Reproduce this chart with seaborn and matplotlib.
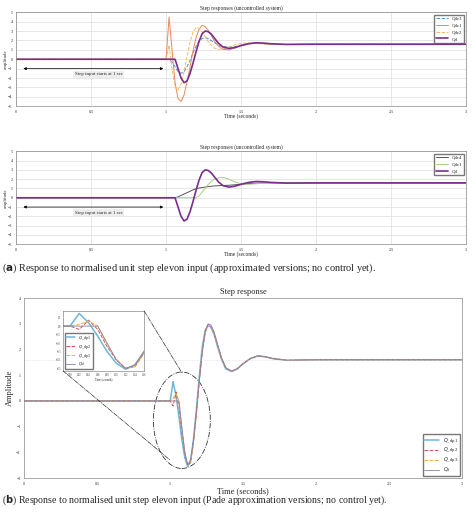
import numpy as np
import pandas as pd
import seaborn as sns
import matplotlib.pyplot as plt
from matplotlib.patches import Ellipse, ConnectionPatch

# time grid (seconds) and responses
t = [0, 1.00, 1.02, 1.04, 1.06, 1.08, 1.10, 1.12, 1.14, 1.16, 1.18, 1.20, 1.22, 1.24, 1.26,
     1.28, 1.30, 1.32, 1.35, 1.38, 1.42, 1.46, 1.50, 1.55, 1.60, 1.65, 1.70, 1.80, 2.0, 3.0]
Qd = [0, 0, 0, 0, 0, -1.0, -2.0, -2.5, -2.3, -1.5, -0.4, 0.8, 1.9, 2.7, 3.0,
      2.95, 2.7, 2.3, 1.7, 1.3, 1.15, 1.25, 1.45, 1.65, 1.75, 1.72, 1.65, 1.58, 1.6, 1.6]
Qdc1 = [0, 0, 4.5, 1.0, -2.5, -4.2, -4.5, -3.8, -2.4, -0.8, 0.9, 2.3, 3.2, 3.6, 3.5,
        3.1, 2.6, 2.0, 1.4, 1.05, 1.0, 1.2, 1.5, 1.7, 1.72, 1.66, 1.6, 1.58, 1.6, 1.6]
Qdc2 = [0, 0, 1.5, -1.0, -3.0, -3.3, -2.6, -1.3, 0.3, 1.8, 2.9, 3.4, 3.3, 2.9, 2.4,
        1.9, 1.5, 1.2, 1.05, 1.1, 1.3, 1.55, 1.7, 1.72, 1.68, 1.62, 1.6, 1.58, 1.6, 1.6]
Qdc3 = [0, 0, 0, -0.3, -0.8, -1.3, -1.5, -1.3, -0.8, -0.1, 0.7, 1.4, 1.9, 2.2, 2.3,
        2.2, 2.0, 1.8, 1.5, 1.35, 1.3, 1.35, 1.5, 1.65, 1.72, 1.68, 1.62, 1.58, 1.6, 1.6]
Qdc4 = [0, 0, 0, 0, 0, 0.1, 0.25, 0.4, 0.55, 0.7, 0.85, 0.97, 1.05, 1.1, 1.15,
        1.2, 1.23, 1.27, 1.3, 1.32, 1.35, 1.4, 1.45, 1.52, 1.57, 1.6, 1.6, 1.6, 1.6, 1.6]
Qdc5 = [0, 0, 0, 0, 0, 0, 0, 0, 0, 0, 0, 0, 0.2, 0.6, 1.0,
        1.4, 1.75, 2.0, 2.15, 2.2, 2.0, 1.7, 1.5, 1.45, 1.5, 1.6, 1.65, 1.62, 1.6, 1.6]
Qdp1 = [0, 0, 0.75, 0.2, -0.6, -1.5, -2.2, -2.55, -2.3, -1.5, -0.3, 1.0, 2.1, 2.75, 2.95,
        2.85, 2.6, 2.2, 1.65, 1.25, 1.15, 1.25, 1.45, 1.65, 1.75, 1.72, 1.65, 1.58, 1.6, 1.6]
Qdp2 = [0, 0, -0.2, 0.35, -0.2, -1.2, -2.0, -2.5, -2.4, -1.6, -0.5, 0.8, 1.9, 2.65, 2.95,
        2.9, 2.65, 2.25, 1.7, 1.3, 1.15, 1.25, 1.45, 1.65, 1.75, 1.72, 1.65, 1.58, 1.6, 1.6]
Qdp3 = [0, 0, 0.1, 0.3, 0.0, -1.1, -1.95, -2.5, -2.4, -1.6, -0.5, 0.8, 1.9, 2.65, 2.95,
        2.9, 2.65, 2.25, 1.7, 1.3, 1.15, 1.25, 1.45, 1.65, 1.75, 1.72, 1.65, 1.58, 1.6, 1.6]

sns.set_style("white")
plt.rcParams['font.family'] = ['Liberation Serif', 'DejaVu Serif']

fig = plt.figure(figsize=(4.74, 5.13), dpi=100)
ax1 = fig.add_axes([0.034, 0.793, 0.949, 0.183])
ax2 = fig.add_axes([0.034, 0.524, 0.949, 0.181])
ax3 = fig.add_axes([0.051, 0.068, 0.924, 0.351])


def small_panel(ax, series):
    for name, y, col, ls, lw in series:
        sns.lineplot(x=t, y=y, ax=ax, color=col, linestyle=ls, lw=lw, label=name)
    ax.set_xlim(0, 3)
    ax.set_ylim(-5, 5)
    ax.set_yticks(range(-5, 6))
    ax.set_xticks([0, 0.5, 1, 1.5, 2, 2.5, 3])
    ax.set_xticklabels(['0', '0.5', '1', '1.5', '2', '2.5', '3'])
    ax.tick_params(labelsize=3, length=1.5, pad=1)
    ax.grid(True, color='#dddddd', lw=0.5)
    ax.set_title('Step responses (uncontrolled system)', fontsize=4, pad=2)
    ax.set_xlabel('Time (seconds)', fontsize=4, labelpad=0)
    ax.set_ylabel('amplitude', fontsize=3.5, labelpad=0)
    for s in ax.spines.values():
        s.set_linewidth(0.5)
        s.set_color('#888888')
    ax.legend(loc='upper right', fontsize=3.5, frameon=True, fancybox=False,
              edgecolor='#555555', borderpad=0.3, handlelength=2.5)
    ax.annotate('', xy=(0.03, -1), xytext=(1.0, -1),
                arrowprops=dict(arrowstyle='<|-|>', lw=0.5, color='k', mutation_scale=4))
    ax.text(0.55, -1.6, 'Step input starts at 1 sec', fontsize=3.5, ha='center', va='center',
            bbox=dict(facecolor='#eeeeee', edgecolor='none', pad=1))


small_panel(ax1, [('Qdc3', Qdc3, '#4f8fc0', '--', 0.7),
                  ('Qdc1', Qdc1, '#e8885a', '-', 0.7),
                  ('Qdc2', Qdc2, '#f0c060', '--', 0.7),
                  ('Qd', Qd, '#7b2d8e', '-', 1.2)])
small_panel(ax2, [('Qdc4', Qdc4, '#555555', '-', 0.7),
                  ('Qdc1', Qdc5, '#a8d080', '-', 0.7),
                  ('Qd', Qd, '#7b2d8e', '-', 1.2)])

bottom_series = [(r'$Q$_dp1', Qdp1, '#6fb7d8', '-', 1.1),
                 (r'$Q$_dp2', Qdp2, '#d05050', '--', 0.7),
                 (r'$Q$_dp3', Qdp3, '#e8b040', '--', 0.7),
                 (r'$Q_d$', Qd, '#8a7faa', '-', 0.6)]
for name, y, col, ls, lw in bottom_series:
    sns.lineplot(x=t, y=y, ax=ax3, color=col, linestyle=ls, lw=lw, label=name)
ax3.axhline(1.6, color='#cccccc', lw=0.4, ls=':')
ax3.set_xlim(0, 3)
ax3.set_ylim(-3, 4)
ax3.set_xticks([0, 0.5, 1, 1.5, 2, 2.5, 3])
ax3.set_xticklabels(['0', '0.5', '1', '1.5', '2', '2.5', '3'])
ax3.tick_params(labelsize=3, length=1.5, pad=1)
ax3.set_title('Step response', fontsize=6, pad=3)
ax3.set_xlabel('Time (seconds)', fontsize=6, labelpad=1)
ax3.set_ylabel('Amplitude', fontsize=6, labelpad=2)
for s in ax3.spines.values():
    s.set_linewidth(0.5)
    s.set_color('#888888')
ax3.legend(loc='lower right', fontsize=3.5, frameon=True, fancybox=False,
           edgecolor='#555555', borderpad=0.3, handlelength=3, labelspacing=0.2)
ell = Ellipse((1.08, -0.75), 0.39, 3.75, fill=False, ls='-.', lw=0.6, color='#333333')
ax3.add_patch(ell)

ins = fig.add_axes([0.133, 0.277, 0.171, 0.117])
for name, y, col, ls, lw in bottom_series:
    sns.lineplot(x=t, y=y, ax=ins, color=col, linestyle=ls, lw=lw, label=name)
ins.set_xlim(0.985, 1.16)
ins.set_ylim(-2.65, 0.9)
ins.tick_params(labelsize=1.8, length=1, pad=0.5)
ins.set_xlabel('Time (seconds)', fontsize=2, labelpad=0)
ins.set_ylabel('')
for s in ins.spines.values():
    s.set_linewidth(0.5)
    s.set_color('#888888')
ins.legend(loc='lower left', fontsize=3, frameon=True, fancybox=False,
           edgecolor='#555555', borderpad=0.3, handlelength=2, labelspacing=0.2)

for xy_ins, xy_dat in [((1, 1), (1.08, 1.1)), ((0, 0), (1.0, -2.3))]:
    cp = ConnectionPatch(xyA=xy_ins, coordsA=ins.transAxes, xyB=xy_dat, coordsB=ax3.transData,
                         ls='-.', lw=0.5, color='#333333')
    fig.add_artist(cp)

fig.text(0.005, 0.478, r'($\bf{a}$) Response to normalised unit step elevon input (approximated versions; no control yet).',
         fontsize=7.4, ha='left', va='center', family=['Liberation Serif'])
fig.text(0.005, 0.025, r'($\bf{b}$) Response to normalised unit step elevon input (Pade approximation versions; no control yet).',
         fontsize=7.1, ha='left', va='center', family=['Liberation Serif'])

fig.savefig('out.png', dpi=100)
